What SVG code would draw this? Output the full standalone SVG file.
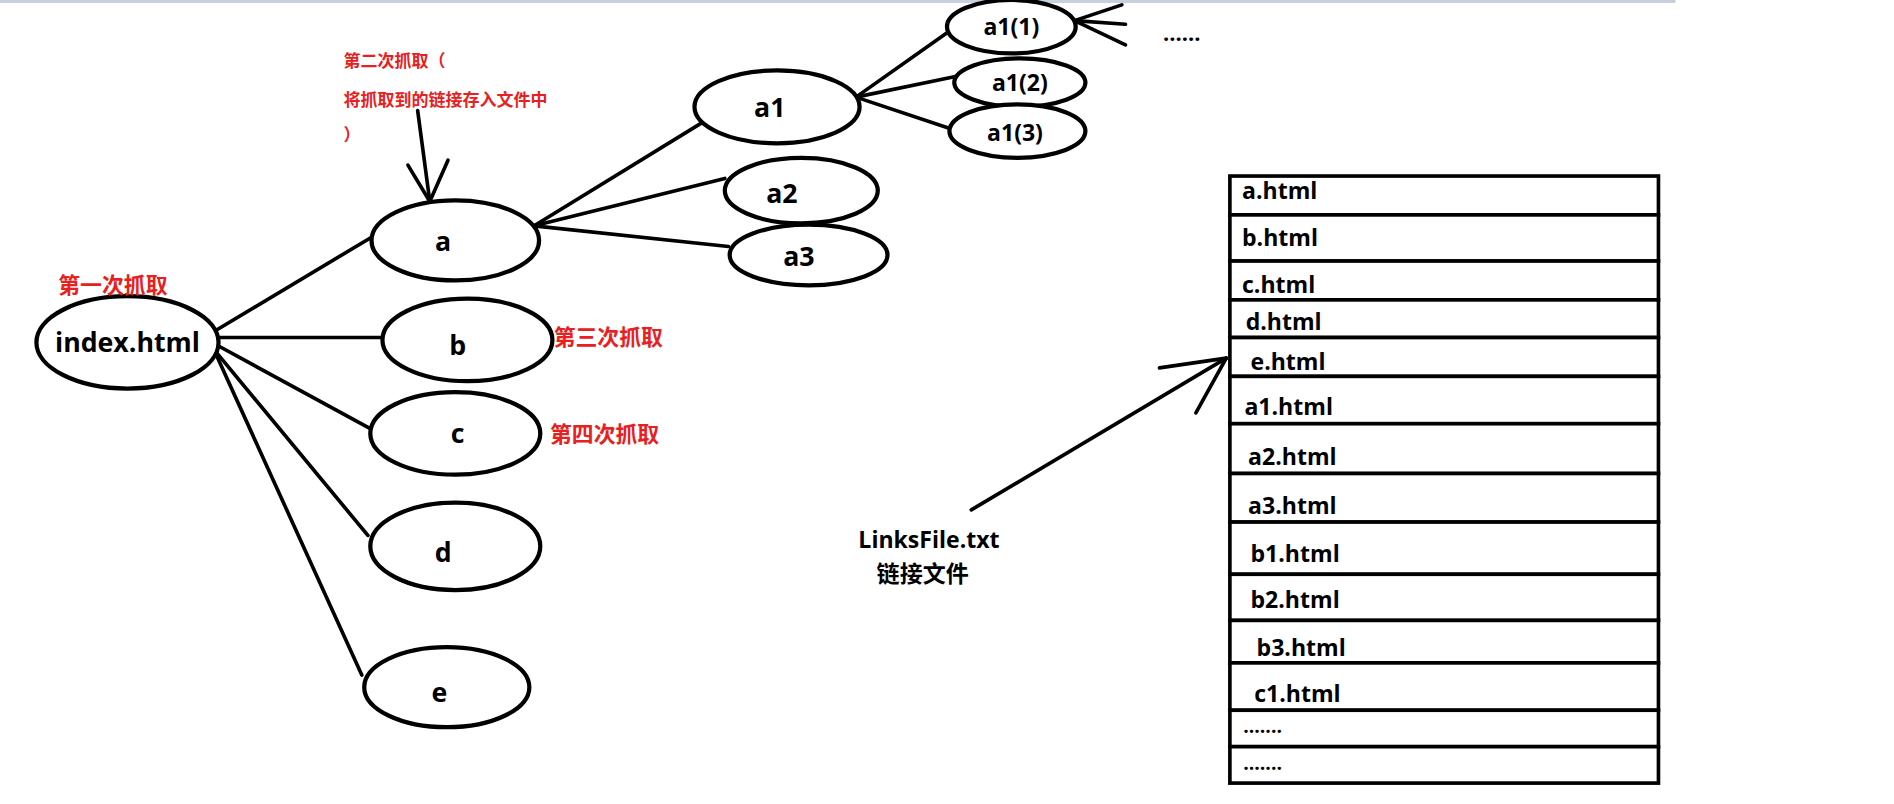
<svg xmlns="http://www.w3.org/2000/svg" width="1894" height="804" viewBox="0 0 1894 804">
<style>
.n{fill:#fff;stroke:#000;stroke-width:3.5}
.t{font-family:"Open Sans","Noto Sans CJK SC",sans-serif;font-weight:bold;font-size:22px;fill:#000;text-anchor:middle}
.s{font-family:"Open Sans","Noto Sans CJK SC",sans-serif;font-weight:bold;font-size:19px;fill:#000}
.r{font-family:"Noto Sans CJK SC",sans-serif;font-weight:bold;fill:#e82020}
.c line{stroke:#000;stroke-width:3;stroke-linecap:round}
.row{fill:#fff;stroke:#000;stroke-width:3}
</style>
<rect width="1894" height="804" fill="#fff"/>
<g transform="scale(1.2141)">
<rect x="0" y="0" width="1380" height="2.5" fill="#c8d0e0"/>
<g class="c" id="connectors">
<line x1="178" y1="272" x2="305" y2="196"/>
<line x1="180" y1="278" x2="315" y2="278"/>
<line x1="180" y1="285" x2="305" y2="353"/>
<line x1="178" y1="290" x2="303" y2="441"/>
<line x1="178" y1="292" x2="298" y2="556"/>
<line x1="440" y1="186" x2="580" y2="100"/>
<line x1="440" y1="186" x2="597" y2="147"/>
<line x1="440" y1="186" x2="600" y2="203"/>
<line x1="705" y1="80" x2="783" y2="25"/>
<line x1="705" y1="80" x2="787" y2="63"/>
<line x1="705" y1="80" x2="783" y2="106"/>
<line x1="885" y1="17" x2="924" y2="4"/>
<line x1="885" y1="17" x2="927" y2="20"/>
<line x1="885" y1="17" x2="927" y2="37"/>
<line x1="800" y1="420" x2="1010" y2="295"/>
<line x1="955" y1="303" x2="1010" y2="295"/>
<line x1="985" y1="340" x2="1010" y2="295"/>
<g style="stroke:#e82020">
<line x1="344" y1="91" x2="354" y2="166"/>
<line x1="336" y1="136" x2="354" y2="166"/>
<line x1="369" y1="132" x2="354" y2="166"/>
</g>
</g>
<g id="index"><ellipse class="n" cx="105" cy="282" rx="75" ry="38"/><text class="t" x="105" y="290">index.html</text></g>
<g id="a"><ellipse class="n" cx="375" cy="198" rx="69" ry="33"/><text class="t" x="365" y="207">a</text></g>
<g id="b"><ellipse class="n" cx="385" cy="280" rx="70" ry="34"/><text class="t" x="377" y="292">b</text></g>
<g id="c"><ellipse class="n" cx="375" cy="357" rx="70" ry="34"/><text class="t" x="377" y="365">c</text></g>
<g id="d"><ellipse class="n" cx="375" cy="450" rx="70" ry="36"/><text class="t" x="365" y="463">d</text></g>
<g id="e"><ellipse class="n" cx="368" cy="566" rx="68" ry="33"/><text class="t" x="362" y="578">e</text></g>
<g id="a1"><ellipse class="n" cx="640" cy="88" rx="68" ry="30"/><text class="t" x="634" y="96">a1</text></g>
<g id="a2"><ellipse class="n" cx="660" cy="157" rx="63" ry="27"/><text class="t" x="644" y="167">a2</text></g>
<g id="a3"><ellipse class="n" cx="666" cy="210" rx="65" ry="25"/><text class="t" x="658" y="219">a3</text></g>
<g id="a1_1"><ellipse class="n" cx="833" cy="22" rx="53" ry="22"/><text class="t" x="833" y="29" style="font-size:19px">a1(1)</text></g>
<g id="a1_2"><ellipse class="n" cx="840" cy="68" rx="54" ry="20"/><text class="t" x="840" y="75" style="font-size:19px">a1(2)</text></g>
<g id="a1_3"><ellipse class="n" cx="838" cy="108" rx="56" ry="22"/><text class="t" x="836" y="116" style="font-size:19px">a1(3)</text></g>
<text class="s" x="958" y="34" style="font-size:18px">......</text>
<text class="r" x="283" y="55" font-size="14">第二次抓取（</text>
<text class="r" x="283" y="87" font-size="14">将抓取到的链接存入文件中</text>
<text class="r" x="283" y="116" font-size="14">）</text>
<text class="r" x="48" y="241" font-size="18">第一次抓取</text>
<text class="r" x="456" y="284" font-size="18">第三次抓取</text>
<text class="r" x="453" y="364" font-size="18">第四次抓取</text>
<g id="links">
<rect class="row" x="1013" y="145" width="353" height="32"/>
<rect class="row" x="1013" y="177" width="353" height="38"/>
<rect class="row" x="1013" y="215" width="353" height="32"/>
<rect class="row" x="1013" y="247" width="353" height="31"/>
<rect class="row" x="1013" y="278" width="353" height="32"/>
<rect class="row" x="1013" y="310" width="353" height="39"/>
<rect class="row" x="1013" y="349" width="353" height="41"/>
<rect class="row" x="1013" y="390" width="353" height="40"/>
<rect class="row" x="1013" y="430" width="353" height="43"/>
<rect class="row" x="1013" y="473" width="353" height="38"/>
<rect class="row" x="1013" y="511" width="353" height="35"/>
<rect class="row" x="1013" y="546" width="353" height="39"/>
<rect class="row" x="1013" y="585" width="353" height="30"/>
<rect class="row" x="1013" y="615" width="353" height="30"/>
<text class="s" x="1023" y="164">a.html</text>
<text class="s" x="1023" y="203">b.html</text>
<text class="s" x="1023" y="241">c.html</text>
<text class="s" x="1026" y="272">d.html</text>
<text class="s" x="1030" y="305">e.html</text>
<text class="s" x="1025" y="342">a1.html</text>
<text class="s" x="1028" y="383">a2.html</text>
<text class="s" x="1028" y="423">a3.html</text>
<text class="s" x="1030" y="463">b1.html</text>
<text class="s" x="1030" y="501">b2.html</text>
<text class="s" x="1035" y="540">b3.html</text>
<text class="s" x="1033" y="578">c1.html</text>
<text class="s" x="1024" y="604" style="font-size:16px">.......</text>
<text class="s" x="1024" y="634" style="font-size:16px">.......</text>
</g>
<text class="s" x="707" y="451">LinksFile.txt</text>
<text class="s" x="722" y="479">链接文件</text>
</g>
</svg>
